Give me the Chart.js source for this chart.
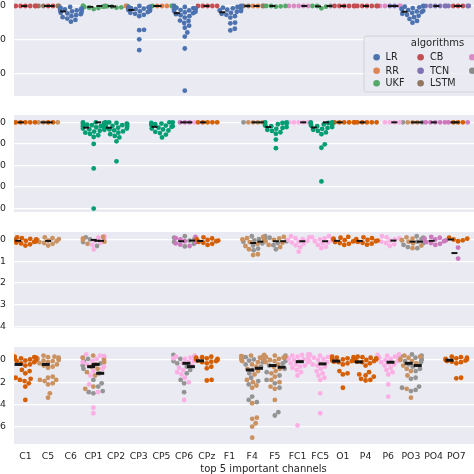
<!DOCTYPE html>
<html><head><meta charset="utf-8">
<script src="https://cdn.jsdelivr.net/npm/chart.js@4.4.1/dist/chart.umd.min.js"></script>
<style>
html,body{margin:0;padding:0;background:#fff;width:474px;height:474px;overflow:hidden;position:relative}
.pw{position:absolute;left:-40px;width:560px}
canvas{display:block}
</style></head>
<body>
<div class="pw" id="w1"><canvas id="c1" width="560" height="110"></canvas></div>
<div class="pw" id="w2"><canvas id="c2" width="560" height="110"></canvas></div>
<div class="pw" id="w3"><canvas id="c3" width="560" height="110"></canvas></div>
<div class="pw" id="w4"><canvas id="c4" width="560" height="140"></canvas></div>
<script>
// ---------- categories / labels ----------
const categories = ['C1','C5','C6','CP1','CP2','CP3','CP5','CP6','CPz','F1','F4','F5','FC1','FC5','O1','P4','P6','PO3','PO4','PO7'];
const algorithms = ['LR','RR','UKF','CB','TCN','LSTM','MLP','GRU'];
const deepPalette = ['#4c72b0','#dd8452','#55a868','#c44e52','#8172b3','#937860','#da8bc3','#8c8c8c'];
const colorblindPalette = ['#0173b2','#de8f05','#029e73','#d55e00','#cc78bc','#ca9161','#fbafe4','#949494'];
const xTitle = 'top 5 important channels';
const legendTitle = 'algorithms';
const p1Ticks = [0,-10,-20];
const p2Ticks = [0,-10,-20,-30,-40];
const p3Ticks = [0,-0.1,-0.2,-0.3,-0.4];
const p4Ticks = [0,-0.2,-0.4,-0.6];

// ---------- panel 1 ----------
const p1_LR = {
  C6: [-0.3,-0.5,-0.6,-0.8,-0.9,-1.0,-1.1,-1.2,-1.3,-1.4,-1.6,-1.8,-2.0,-2.2,-2.4,-2.7,-3.0,-3.3,-3.7,-4.1,-4.6],
  CP3: [0,-0.2,-0.3,-0.4,-0.5,-0.6,-0.7,-0.8,-0.9,-1.0,-1.1,-1.2,-1.4,-1.6,-1.8,-2.0,-2.3,-2.6,-3.0,-7.0,-7.1,-9.8,-13.0],
  CP6: [0,-0.2,-0.3,-0.5,-0.6,-0.8,-0.9,-1.0,-1.2,-1.3,-1.5,-1.7,-1.9,-2.1,-2.4,-2.7,-3.0,-3.4,-4.3,-4.4,-5.0,-5.8,-6.4,-7.8,-9.0,-12.5,-24.9],
  F1: [0,-0.3,-0.5,-0.7,-0.9,-1.1,-1.3,-1.5,-1.7,-2.0,-2.3,-2.6,-3.0,-3.4,-4.9,-5.1,-6.7,-7.2],
  PO3: [0,-0.2,-0.4,-0.6,-0.8,-1.0,-1.2,-1.4,-1.6,-1.8,-2.0,-2.3,-2.6,-2.9,-3.3,-3.8,-4.4,-4.9]
};
const p1_RR = { CP2: [0], CP5: [0,0,0], F4: [0,0] };
const p1_UKF = { CP1: [0,0,-0.1,-0.2,-0.3,-0.5,-0.6,-0.9], CP2: [0,0,-0.1,-0.2,-0.4,-0.5], CP5: [0,0,0], F5: [0,0,0,-0.1,-0.2], FC5: [0,0,-0.2,-0.7] };
const p1_CB = { C1: [0,0,0,0,0,0], C5: [0,0], CPz: [0,0,0,0,0], O1: [0,0,0,0,0,0], P4: [0,0,0,0,0,0], PO7: [0,0,0] };
const p1_TCN = { P6: [0,0], PO4: [0,0,0,0,0,0], PO7: [0,0,0] };
const p1_LSTM = { C5: [0,0,0,0], F4: [0,0,0,0] };
const p1_MLP = { CP1: [0], FC1: [0,0,0,0,0], P6: [0,0,0,0] };
const p1_GRU = { FC5: [0] };

// ---------- panel 2 ----------
const p2_UKF = {
  CP1: [0,0,-0.3,-0.5,-0.7,-0.9,-1.1,-1.3,-1.5,-1.7,-1.9,-2.1,-2.3,-2.6,-2.9,-3.2,-3.5,-3.9,-4.3,-4.8,-5.4,-6.0,-6.8,-10.0,-21.4,-40.0],
  CP2: [0,0,-0.3,-0.6,-0.8,-1.0,-1.3,-1.6,-1.9,-2.2,-2.5,-2.9,-3.3,-3.7,-4.2,-4.8,-5.5,-6.3,-7.0,-8.8,-18.1],
  CP5: [0,0,-0.3,-0.6,-0.9,-1.2,-1.5,-1.8,-2.1,-2.5,-2.9,-3.3,-3.8,-4.4,-5.0,-5.7,-7.0],
  F5: [0,0,-0.3,-0.6,-0.9,-1.2,-1.5,-1.8,-2.2,-2.6,-3.0,-3.5,-4.0,-4.6,-5.3,-8.0,-12.0],
  FC5: [0,0,-0.3,-0.6,-0.9,-1.2,-1.5,-1.8,-2.2,-2.6,-3.0,-3.5,-4.0,-4.7,-5.5,-10.2,-11.8,-27.4]
};
const p2_CB = { C1: [0,0,0,0,0], C5: [0,0], CPz: [0,0,0,0,0], O1: [0,0,0,0,0,0], P4: [0,0,0,0,0], PO7: [0,0,0] };
const p2_TCN = { CP6: [0,0,0], PO4: [0,0,0,0,0], PO7: [0,0] };
const p2_LSTM = { C5: [0,0,0], F4: [0,0,0,0], PO3: [0,0,0] };
const p2_MLP = { CP1: [0], CP6: [0], FC1: [0,0,0,0,0], FC5: [0], P6: [0,0,0,0] };
const p2_GRU = { F4: [0], PO3: [0,0] };

// ---------- panel 3 ----------
const p3_CB = {
  C1: [0.01,0.006,0.003,0,-0.002,-0.004,-0.006,-0.008,-0.011,-0.014,-0.018,-0.022,-0.028],
  CPz: [0.01,0.005,0.001,-0.002,-0.005,-0.008,-0.011,-0.015,-0.02,-0.025],
  O1: [0.012,0.008,0.004,0,-0.003,-0.006,-0.009,-0.012,-0.016,-0.02,-0.025],
  P4: [0.01,0.006,0.002,-0.002,-0.005,-0.008,-0.011,-0.015,-0.019,-0.024],
  PO7: [0.008,0.004,0,-0.004,-0.008]
};
const p3_TCN = {
  CP6: [0.012,0.006,0.001,-0.004,-0.008,-0.013,-0.018,-0.024,-0.03],
  PO4: [0.012,0.008,0.004,0,-0.004,-0.008,-0.012,-0.016,-0.02,-0.025],
  PO7: [-0.037,-0.088]
};
const p3_LSTM = {
  C5: [0.01,0.006,0.002,-0.002,-0.005,-0.008,-0.012,-0.016,-0.02,-0.028],
  CP1: [0.012,0.005,-0.002,-0.01,-0.02],
  F4: [0.012,0.006,0,-0.005,-0.012,-0.02,-0.03,-0.045,-0.068,-0.072],
  F5: [0.012,0.005,-0.002,-0.008,-0.015,-0.025,-0.035],
  PO3: [0.01,0.004,-0.003,-0.01,-0.018,-0.028,-0.04]
};
const p3_MLP = {
  CP1: [0.015,0.008,0.002,-0.006,-0.015,-0.025,-0.046],
  FC1: [0.015,0.01,0.006,0.002,-0.002,-0.006,-0.01,-0.014,-0.02,-0.027,-0.035,-0.056],
  FC5: [0.015,0.01,0.005,0.001,-0.003,-0.008,-0.013,-0.018,-0.025,-0.033,-0.04],
  P6: [0.015,0.01,0.005,0,-0.005,-0.01,-0.016,-0.022,-0.03]
};
const p3_GRU = {
  CP1: [0.01,0,-0.012,-0.03],
  CP6: [0.015,0.008,0.002,-0.005,-0.012,-0.02,-0.032],
  F4: [0.015,0.008,0.002,-0.004,-0.01,-0.018,-0.028,-0.042,-0.05],
  F5: [0.015,0.008,0,-0.008,-0.016,-0.026,-0.045],
  PO3: [0.015,0.008,0.002,-0.004,-0.01,-0.017,-0.025,-0.035,-0.04]
};

// ---------- panel 4 ----------
const p4_CB = {
  C1: [0.03,0.025,0.02,0.015,0.01,0.005,0,-0.005,-0.01,-0.02,-0.03,-0.04,-0.05,-0.09,-0.1,-0.12,-0.16,-0.17,-0.18,-0.19,-0.21,-0.24,-0.36],
  CPz: [0.03,0.025,0.02,0.015,0.01,0.005,0,-0.005,-0.01,-0.015,-0.02,-0.03,-0.06,-0.075,-0.18,-0.185],
  O1: [0.03,0.025,0.02,0.015,0.01,0.005,0,-0.005,-0.01,-0.015,-0.02,-0.03,-0.04,-0.1,-0.12,-0.13,-0.25],
  P4: [0.03,0.025,0.02,0.015,0.01,0.005,0,-0.005,-0.01,-0.015,-0.02,-0.03,-0.05,-0.11,-0.13,-0.14,-0.15,-0.17,-0.18,-0.185],
  PO7: [0.03,0.025,0.02,0.015,0.01,0.005,0,-0.005,-0.01,-0.015,-0.02,-0.03,-0.16,-0.165]
};
const p4_LSTM = {
  C5: [0.04,0.03,0.025,0.02,0.015,0.01,0.005,0,-0.005,-0.01,-0.02,-0.03,-0.04,-0.05,-0.06,-0.07,-0.15,-0.16,-0.18,-0.18,-0.19,-0.21,-0.22,-0.3,-0.34],
  CP1: [0.04,0.02,0,-0.02,-0.04,-0.06,-0.08,-0.11,-0.14,-0.24,-0.26],
  F4: [0.04,0.035,0.03,0.02,0.015,0.01,0,-0.01,-0.02,-0.04,-0.06,-0.08,-0.1,-0.13,-0.18,-0.2,-0.23,-0.25,-0.39,-0.52,-0.53,-0.57,-0.6,-0.7],
  F5: [0.045,0.04,0.03,0.025,0.02,0.01,0,-0.01,-0.02,-0.04,-0.06,-0.08,-0.1,-0.12,-0.15,-0.18,-0.2,-0.24,-0.26,-0.36],
  PO3: [0.04,0.03,0.02,0.01,0,-0.01,-0.03,-0.05,-0.08,-0.1,-0.14,-0.26,-0.34]
};
const p4_MLP = {
  CP1: [0.05,0.04,0.03,0.02,0.01,0,-0.01,-0.02,-0.04,-0.06,-0.08,-0.1,-0.14,-0.22,-0.29,-0.43,-0.48],
  CP6: [0.04,0.03,0.02,0.015,0.01,0,-0.01,-0.02,-0.03,-0.05,-0.07,-0.09,-0.11,-0.13,-0.16,-0.2,-0.36],
  FC1: [0.05,0.045,0.04,0.03,0.025,0.02,0.01,0.005,0,-0.01,-0.02,-0.03,-0.04,-0.05,-0.06,-0.07,-0.09,-0.11,-0.14,-0.59],
  FC5: [0.05,0.045,0.04,0.03,0.025,0.02,0.01,0,-0.01,-0.02,-0.03,-0.04,-0.05,-0.06,-0.08,-0.1,-0.12,-0.14,-0.16,-0.18,-0.3,-0.48],
  P6: [0.05,0.045,0.04,0.03,0.025,0.02,0.01,0,-0.01,-0.02,-0.03,-0.04,-0.05,-0.07,-0.09,-0.11,-0.13,-0.22,-0.33]
};
const p4_GRU = {
  CP1: [0.03,0.01,-0.01,-0.03,-0.05,-0.08,-0.12,-0.18,-0.21,-0.24,-0.28,-0.29,-0.3],
  CP6: [0.045,0.03,0.01,-0.01,-0.03,-0.06,-0.09,-0.12,-0.18,-0.21,-0.29],
  F4: [0.035,0.025,0.015,0.005,-0.005,-0.02,-0.04,-0.06,-0.09,-0.12,-0.16,-0.19,-0.22,-0.33,-0.36,-0.38],
  F5: [0.04,0.03,0.02,0.01,0,-0.01,-0.03,-0.05,-0.08,-0.11,-0.14,-0.18,-0.21,-0.25,-0.47,-0.5],
  PO3: [0.05,0.04,0.03,0.02,0.01,0,-0.01,-0.02,-0.04,-0.06,-0.08,-0.1,-0.16,-0.17,-0.24,-0.25,-0.27,-0.28]
};

const p1Series = [p1_LR, p1_RR, p1_UKF, p1_CB, p1_TCN, p1_LSTM, p1_MLP, p1_GRU];
const p2Series = [null, null, p2_UKF, p2_CB, p2_TCN, p2_LSTM, p2_MLP, p2_GRU];
const p3Series = [null, null, null, p3_CB, p3_TCN, p3_LSTM, p3_MLP, p3_GRU];
const p4Series = [null, null, null, p4_CB, null, p4_LSTM, p4_MLP, p4_GRU];

// ---------- drawing ----------
const TEXT = '#262626';
const FONT = 'DejaVu Sans';
const DOT_R = 2.4;
const CANVAS_W = 560;
const X_AXIS_H = 31;
const minus = s => s.replace('-', '\u2212');

function median(a){ const s=[...a].sort((x,y)=>x-y); const n=s.length; return n%2? s[(n-1)/2] : (s[n/2-1]+s[n/2])/2; }

const bgPlugin = { id:'bg', beforeDraw(chart){ const {ctx, chartArea:a}=chart; ctx.save(); ctx.fillStyle='#eaeaf2'; ctx.fillRect(a.left,a.top,a.right-a.left,a.bottom-a.top); ctx.restore(); } };

const legendPlugin = { id:'lg', afterDraw(chart){
  const {ctx, chartArea:a} = chart;
  const bx = a.left + 350, by = a.top + 36, bw = 160, bh = 56;
  ctx.save();
  ctx.beginPath();
  if (ctx.roundRect) ctx.roundRect(bx, by, bw, bh, 2.5); else ctx.rect(bx, by, bw, bh);
  ctx.fillStyle = 'rgba(234,234,242,0.8)'; ctx.fill();
  ctx.strokeStyle = '#cccccc'; ctx.lineWidth = 0.8; ctx.stroke();
  ctx.fillStyle = TEXT; ctx.textBaseline = 'middle';
  ctx.font = '10px "' + FONT + '"'; ctx.textAlign = 'center';
  ctx.fillText(legendTitle, bx + 73.5, by + 7.5);
  ctx.textAlign = 'left'; ctx.font = '9.6px "' + FONT + '"';
  const colMarker = [12.6, 56.6, 108.3], colText = [21.6, 66, 117.7], rowY = [21.3, 34.7, 47.3];
  algorithms.forEach((name, i) => {
    const c = Math.floor(i/3), r = i%3;
    ctx.beginPath(); ctx.fillStyle = deepPalette[i];
    ctx.arc(bx + colMarker[c], by + rowY[r], 3.3, 0, Math.PI*2); ctx.fill();
    ctx.fillStyle = TEXT; ctx.fillText(name, bx + colText[c], by + rowY[r] + 0.5);
  });
  ctx.restore();
} };

function buildChart(canvas, cfg){
  const present = [];
  cfg.series.forEach((s,a)=>{ if (s) present.push(a); });
  const nh = present.length, w = 0.8/nh;
  const datasets = [], med = [];
  cfg.series.forEach((s,a)=>{
    if (!s) return;
    const data = [];
    const j = present.indexOf(a);
    Object.keys(s).forEach(cat=>{
      const ci = categories.indexOf(cat);
      s[cat].forEach(v=>data.push({x:ci, y:v, c:ci}));
      med.push({x: ci + (j-(nh-1)/2)*w, y: median(s[cat])});
    });
    datasets.push({label: algorithms[a], data, order: 1,
      pointRadius: DOT_R, pointHoverRadius: DOT_R, pointBorderWidth: 0,
      pointBackgroundColor: cfg.palette[a], pointBorderColor: cfg.palette[a], backgroundColor: cfg.palette[a]});
  });
  datasets.push({label:'median', isMedian:true, data: med, order: 0, pointStyle:'line',
    pointRadius: cfg.lineHalf, pointHoverRadius: cfg.lineHalf, pointBorderWidth: cfg.lineW, pointBorderColor:'#151515',
    pointBackgroundColor:'#151515', borderColor:'#151515'});

  const plugins = [bgPlugin];
  if (cfg.legend) plugins.push(legendPlugin);

  return new Chart(canvas, {
    type: 'scatter',
    data: { datasets },
    plugins,
    options: {
      responsive: false, maintainAspectRatio: false, animation: false, events: [],
      layout: { padding: { left: 0, right: 4, top: 0, bottom: 0 } },
      plugins: { legend: { display: false }, tooltip: { enabled: false } },
      scales: {
        x: {
          type: 'linear', min: -0.5, max: 21.5, display: cfg.showX,
          grid: { display: false, drawTicks: false }, border: { display: false },
          afterBuildTicks: s => { s.ticks = categories.map((c,i)=>({value:i})); },
          ticks: { autoSkip: false, maxRotation: 0, minRotation: 0, padding: 7, color: TEXT,
                   font: { family: FONT, size: 9.3 }, callback: v => categories[v] ?? '' },
          title: { display: true, text: xTitle, color: TEXT, font: { family: FONT, size: 10 }, padding: { top: 0, bottom: 0 } },
          afterFit: s => { if (cfg.showX) s.height = X_AXIS_H; s.paddingLeft = 0; s.paddingRight = 0; }
        },
        y: {
          min: cfg.min, max: cfg.max,
          grid: { color: '#ffffff', lineWidth: 1.2, drawTicks: false }, border: { display: false },
          afterBuildTicks: s => { s.ticks = cfg.ticks.map(v=>({value:v})); },
          ticks: { padding: 8, color: TEXT, font: { family: FONT, size: 9.3 }, callback: v => minus(cfg.fmt(v)) },
          afterFit: s => { s.width = 54; s.paddingTop = 0; s.paddingBottom = 0; }
        }
      }
    }
  });
}

function makePanel(cfg){
  const canvas = document.getElementById(cfg.id);
  const wrap = canvas.parentNode;
  const plotH = cfg.bottom - cfg.top;
  // first pass: measure how much room the library keeps around the plot area
  let h = canvas.height;
  let chart = buildChart(canvas, cfg);
  const ca = chart.chartArea;
  const padTop = ca.top, padBot = h - ca.bottom;
  chart.destroy();
  h = Math.round(padTop + plotH + padBot);
  canvas.width = CANVAS_W; canvas.height = h;
  canvas.style.width = CANVAS_W + 'px'; canvas.style.height = h + 'px';
  wrap.style.top = (cfg.top - padTop) + 'px'; wrap.style.height = h + 'px';
  chart = buildChart(canvas, cfg);
  applySwarm(chart);
  return chart;
}

function applySwarm(chart){
  const xs = chart.scales.x, ys = chart.scales.y;
  const pxCat = xs.getPixelForValue(1) - xs.getPixelForValue(0);
  const d = 2*DOT_R, half = 0.47*pxCat;
  const byCat = {};
  chart.data.datasets.forEach(ds=>{ if (ds.isMedian) return; ds.data.forEach(p=>{ (byCat[p.c] = byCat[p.c] || []).push(p); }); });
  Object.keys(byCat).forEach(c=>{
    const pts = byCat[c].map(p=>({p, y: ys.getPixelForValue(p.y), x: 0}));
    pts.sort((a,b)=> b.y - a.y);
    const placed = [];
    pts.forEach(q=>{
      const cand = [0];
      placed.forEach(r=>{ const dy = q.y - r.y; if (Math.abs(dy) < d){ const dx = Math.sqrt(d*d - dy*dy); cand.push(r.x + dx, r.x - dx); } });
      cand.sort((a,b)=>Math.abs(a)-Math.abs(b));
      let chosen = cand[0];
      for (const cx of cand){
        let ok = true;
        for (const r of placed){ const dx = cx - r.x, dy = q.y - r.y; if (dx*dx + dy*dy < d*d - 0.01){ ok = false; break; } }
        if (ok){ chosen = cx; break; }
      }
      q.x = chosen; placed.push(q);
    });
    placed.forEach(q=>{ const x = Math.max(-half, Math.min(half, q.x)); q.p.x = Number(c) + x/pxCat; });
  });
  chart.update('none');
}

const fmtInt = v => String(Math.round(v));
const fmt1 = v => (Math.abs(v) < 1e-9 ? 0 : v).toFixed(1);

makePanel({ id:'c1', top:0, bottom:96, series:p1Series, palette:deepPalette, ticks:p1Ticks, fmt:fmtInt, min:-26.47, max:1.76, showX:false, legend:true, lineHalf:3, lineW:2 });
makePanel({ id:'c2', top:115, bottom:212, series:p2Series, palette:colorblindPalette, ticks:p2Ticks, fmt:fmtInt, min:-41.6, max:3.4, showX:false, lineHalf:3, lineW:2 });
makePanel({ id:'c3', top:232, bottom:328, series:p3Series, palette:colorblindPalette, ticks:p3Ticks, fmt:fmt1, min:-0.408, max:0.0346, showX:false, lineHalf:3, lineW:2 });
makePanel({ id:'c4', top:347, bottom:444, series:p4Series, palette:colorblindPalette, ticks:p4Ticks, fmt:fmt1, min:-0.757, max:0.117, showX:true, lineHalf:4, lineW:3 });
</script>
</body></html>
